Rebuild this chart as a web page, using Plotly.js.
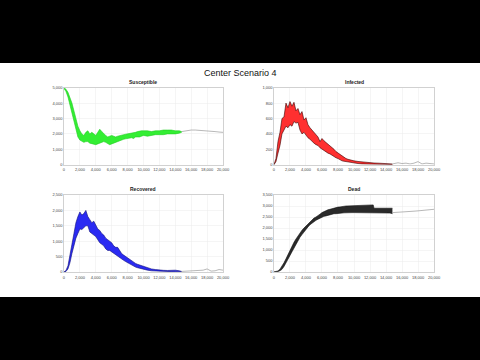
<!DOCTYPE html>
<html><head><meta charset="utf-8">
<script src="https://cdn.plot.ly/plotly-3.0.1.min.js"></script>
<style>html,body{margin:0;padding:0;background:#000;}#c{width:480px;height:360px;}</style>
</head><body><div id="c"></div>
<script>
const bandX = [0,250,500,750,1000,1250,1500,1750,2000,2250,2500,2750,3000,3250,3500,3750,4000,4250,4500,4750,5000,5250,5500,5750,6000,6250,6500,6750,7000,7250,7500,7750,8000,8250,8500,8750,9000,9250,9500,9750,10000,10500,11000,11500,12000,12400,12500,13000,13500,14000,14500,14800];
const tailX = [14800,15500,16000,16500,17000,17500,18000,18500,19000,19500,20000];

const susUpper = [5000,4900,4700,4400,4000,3500,3000,2500,2200,2000,1900,2100,2200,2000,2100,2000,1900,2100,2300,2150,2000,1900,1800,1850,1900,1850,1800,1850,1900,1900,1950,1980,2000,2020,2050,2080,2100,2150,2200,2200,2200,2200,2150,2200,2200,2250,2250,2250,2250,2200,2200,2150];
const susLower = [4950,4750,4400,3900,3300,2700,2200,1800,1600,1500,1450,1500,1500,1400,1350,1300,1300,1350,1400,1450,1500,1450,1350,1300,1350,1400,1450,1500,1600,1620,1650,1680,1700,1720,1750,1700,1800,1800,1800,1850,1900,1850,1900,1950,1950,1950,1950,2000,2000,2000,2050,2100];
const susTail  = [2150,2230,2250,2250,2240,2220,2200,2180,2150,2120,2100];

const infUpper = [0,80,300,420,600,620,800,740,820,760,810,700,730,650,690,580,610,520,480,450,420,380,360,300,340,310,290,260,240,220,200,170,150,130,110,95,80,70,60,55,50,42,35,30,25,23,22,20,17,15,12,10];
const infLower = [0,40,150,250,400,450,500,480,520,500,560,540,550,450,400,420,380,350,330,300,280,260,250,220,200,190,170,150,140,120,100,90,80,60,50,45,40,30,25,22,20,15,10,9,8,7,7,5,4,3,3,2];
const infTail  = [10,25,15,20,10,20,40,10,20,15,10];

const recUpper = [0,50,200,500,900,1250,1600,1800,1950,1850,1900,2000,1800,1700,1600,1650,1500,1400,1350,1250,1200,1100,1050,1000,950,850,800,800,700,600,550,500,450,400,350,320,280,250,230,200,170,130,100,80,60,55,55,50,55,60,40,20];
const recLower = [0,20,100,300,600,850,1100,1250,1400,1380,1450,1500,1500,1300,1250,1200,1150,1050,950,900,850,750,700,700,650,600,550,500,450,420,380,340,300,260,230,190,160,140,120,100,80,60,40,30,20,18,18,15,12,10,8,5];
const recTail  = [20,30,30,40,40,60,100,30,40,80,60];

const deadUpper = [0,15,50,130,250,420,600,800,1000,1180,1350,1500,1650,1780,1900,2000,2100,2200,2300,2380,2450,2500,2550,2630,2700,2750,2800,2830,2850,2880,2900,2930,2950,2960,2980,2990,3000,3005,3010,3015,3020,3030,3050,3050,3050,3050,2900,2900,2900,2900,2900,2900];
const deadLower = [0,5,20,60,120,250,400,570,750,920,1100,1280,1450,1580,1700,1830,1950,2050,2150,2230,2300,2350,2400,2450,2500,2530,2550,2580,2600,2620,2650,2650,2650,2670,2680,2690,2700,2700,2700,2700,2700,2700,2700,2700,2700,2700,2700,2700,2700,2700,2680,2650];
const deadTail  = [2700,2710,2720,2735,2750,2765,2780,2790,2800,2825,2850];

const titles = ["Susceptible","Infected","Recovered","Dead"];
const yMax = [5000,1000,2500,3500];
const yStep = [1000,200,500,500];
const fills = ["#33ee33","#ff3030","#2a2af2","#2a2a2a"];
const edges = ["#22cc22","#3a0000","#10107a","#111111"];
const uppers = [susUpper,infUpper,recUpper,deadUpper];
const lowers = [susLower,infLower,recLower,deadLower];
const tails = [susTail,infTail,recTail,deadTail];

const xDom = [[0.1333,0.4646],[0.5708,0.9042],[0.1333,0.4646],[0.5708,0.9042]];
const yDom = [[0.5425,0.7564],[0.5425,0.7564],[0.2444,0.4583],[0.2444,0.4583]];

const data = [];
const layout = {
  width:480,height:360,margin:{l:0,r:0,t:0,b:0},
  paper_bgcolor:"#ffffff",plot_bgcolor:"#ffffff",showlegend:false,
  font:{family:"Liberation Sans, Arial, sans-serif",color:"#333"},
  shapes:[
    {type:"rect",xref:"paper",yref:"paper",x0:0,x1:1,y0:0,y1:0.175,fillcolor:"#000",line:{width:0},layer:"below"},
    {type:"rect",xref:"paper",yref:"paper",x0:0,x1:1,y0:0.825,y1:1,fillcolor:"#000",line:{width:0},layer:"below"}
  ],
  annotations:[
    {text:"Center Scenario 4",xref:"paper",yref:"paper",x:0.5,y:1-73/360,showarrow:false,font:{size:9,color:"#111"},xanchor:"center",yanchor:"middle"}
  ]
};

for (let i=0;i<4;i++){
  const n = i+1;
  const xa = n===1?"x":"x"+n, ya = n===1?"y":"y"+n;
  data.push({x:bandX,y:lowers[i],xaxis:xa,yaxis:ya,mode:"lines",line:{color:edges[i],width:0.6},hoverinfo:"skip"});
  data.push({x:bandX,y:uppers[i],xaxis:xa,yaxis:ya,mode:"lines",fill:"tonexty",fillcolor:fills[i],line:{color:edges[i],width:0.6},hoverinfo:"skip"});
  data.push({x:tailX,y:tails[i],xaxis:xa,yaxis:ya,mode:"lines",line:{color:"#999",width:0.7},hoverinfo:"skip"});
  const axX = n===1?"xaxis":"xaxis"+n, axY = n===1?"yaxis":"yaxis"+n;
  layout[axX] = {domain:xDom[i],anchor:ya,range:[0,20000],dtick:2000,tick0:0,tickformat:",",
    showgrid:true,gridcolor:"#ececec",gridwidth:0.5,zeroline:false,showline:true,mirror:true,linecolor:"#bdbdbd",linewidth:0.7,
    ticks:"",tickfont:{size:4,color:"#444"},ticklabelstandoff:1};
  layout[axY] = {domain:yDom[i],anchor:xa,range:[0,yMax[i]],dtick:yStep[i],tick0:0,tickformat:",",
    showgrid:true,gridcolor:"#ececec",gridwidth:0.5,zeroline:false,showline:true,mirror:true,linecolor:"#bdbdbd",linewidth:0.7,
    ticks:"",tickfont:{size:4,color:"#444"}};
  layout.annotations.push({text:"<b>"+titles[i]+"</b>",xref:"paper",yref:"paper",
    x:(xDom[i][0]+xDom[i][1])/2,y:yDom[i][1]+0.002,yanchor:"bottom",xanchor:"center",showarrow:false,font:{size:5,color:"#222"}});
}

Plotly.newPlot("c",data,layout,{staticPlot:true});
</script></body></html>
